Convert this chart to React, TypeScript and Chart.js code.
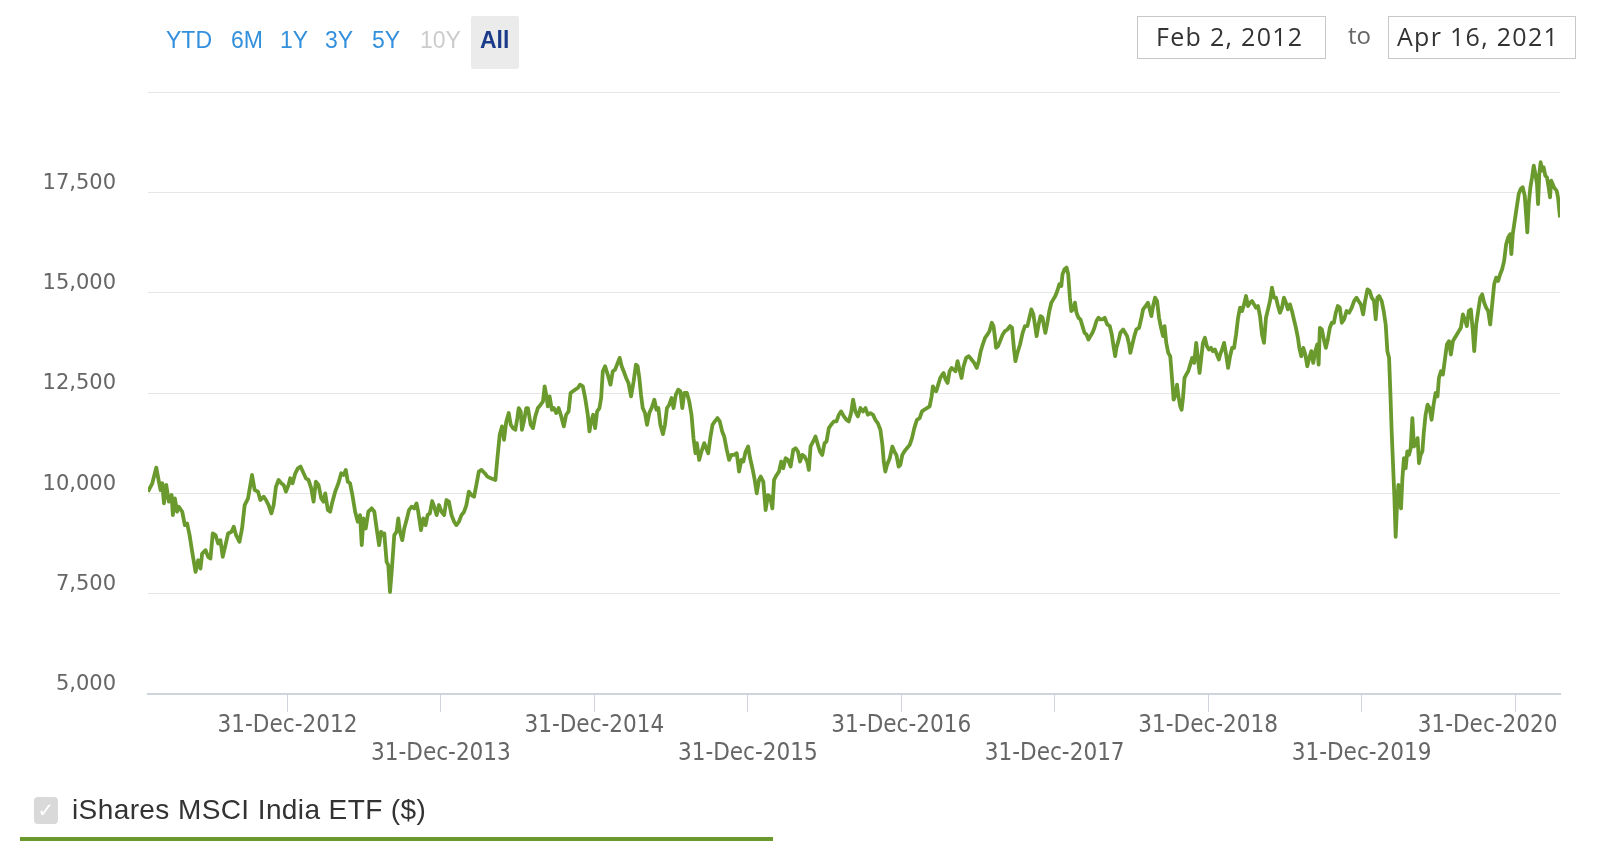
import React, { useEffect, useRef } from "react";
import { Chart, registerables } from "chart.js";

Chart.register(...registerables);

// ---- Data (decimal years, fund value in $) ----
const seg1Years = [2012.088, 2012.116, 2012.142, 2012.159, 2012.170, 2012.181, 2012.192, 2012.207, 2012.224, 2012.242, 2012.250, 2012.263, 2012.278, 2012.289, 2012.311, 2012.328, 2012.343, 2012.359, 2012.376, 2012.398, 2012.415, 2012.430, 2012.441, 2012.463, 2012.480, 2012.495, 2012.510, 2012.528, 2012.545, 2012.560, 2012.575, 2012.593, 2012.610, 2012.632, 2012.647, 2012.662, 2012.684, 2012.701, 2012.718, 2012.740, 2012.766, 2012.783, 2012.805, 2012.820, 2012.842, 2012.857, 2012.874, 2012.892, 2012.907, 2012.922, 2012.939, 2012.957, 2012.972, 2012.987, 2013.004, 2013.015, 2013.030, 2013.048, 2013.065, 2013.082, 2013.102, 2013.117, 2013.134, 2013.152, 2013.167, 2013.182, 2013.199, 2013.217, 2013.232, 2013.243, 2013.260, 2013.275, 2013.290, 2013.308, 2013.329, 2013.347, 2013.362, 2013.377, 2013.390, 2013.405, 2013.420, 2013.438, 2013.455, 2013.470, 2013.481, 2013.492, 2013.507, 2013.524, 2013.546, 2013.563, 2013.578, 2013.594, 2013.607, 2013.622];
const seg1Values = [10042, 10250, 10642, 10292, 10083, 10250, 9750, 10208, 9792, 9958, 9458, 9875, 9542, 9667, 9542, 9208, 9250, 8958, 8542, 8042, 8333, 8125, 8500, 8583, 8417, 8375, 9000, 8958, 8750, 8833, 8417, 8708, 9000, 9042, 9167, 8958, 8792, 9125, 9708, 9875, 10458, 10083, 10042, 9833, 9917, 9833, 9708, 9500, 9708, 10167, 10333, 10250, 10208, 10042, 10208, 10375, 10250, 10500, 10625, 10667, 10500, 10375, 10333, 10125, 9792, 10292, 10208, 9875, 9792, 10000, 9583, 9542, 9792, 10042, 10250, 10500, 10458, 10583, 10292, 10250, 9958, 9542, 9292, 9458, 8708, 9375, 9125, 9542, 9625, 9542, 9125, 8708, 9042, 8958];

const seg2Years = [2013.628, 2013.643, 2013.654, 2013.665, 2013.676, 2013.693, 2013.708, 2013.719, 2013.730, 2013.745, 2013.758, 2013.773, 2013.789, 2013.806, 2013.823, 2013.838, 2013.849, 2013.867, 2013.882, 2013.897, 2013.910, 2013.925, 2013.940, 2013.953, 2013.969, 2013.984, 2014.001, 2014.018, 2014.033, 2014.049, 2014.066, 2014.083, 2014.098, 2014.114, 2014.131, 2014.148, 2014.163, 2014.179, 2014.196, 2014.213, 2014.228, 2014.244, 2014.261, 2014.283, 2014.300, 2014.322, 2014.352, 2014.365, 2014.380, 2014.395, 2014.408, 2014.423, 2014.439, 2014.452, 2014.467, 2014.482, 2014.495, 2014.504, 2014.517, 2014.525, 2014.538, 2014.553, 2014.564, 2014.582, 2014.597, 2014.612, 2014.629, 2014.647, 2014.662, 2014.673, 2014.683, 2014.694, 2014.705, 2014.720, 2014.733, 2014.748, 2014.764, 2014.781, 2014.798, 2014.813, 2014.829, 2014.842, 2014.857, 2014.872, 2014.889, 2014.904, 2014.922, 2014.937, 2014.954, 2014.965, 2014.976, 2014.989, 2015.002, 2015.015, 2015.030, 2015.041, 2015.052, 2015.067, 2015.084, 2015.102, 2015.117, 2015.132, 2015.149, 2015.162, 2015.175, 2015.188, 2015.204];
const seg2Values = [9000, 8292, 8208, 7542, 8042, 8958, 9042, 9375, 9042, 8833, 9125, 9333, 9583, 9667, 9625, 9750, 9542, 9083, 9375, 9208, 9458, 9500, 9808, 9667, 9458, 9708, 9542, 9458, 9833, 9792, 9458, 9292, 9208, 9292, 9458, 9542, 9708, 10042, 9958, 9917, 10208, 10542, 10583, 10500, 10417, 10375, 10333, 10875, 11458, 11667, 11333, 11792, 12000, 11708, 11625, 11583, 11875, 12125, 12042, 11583, 11792, 12125, 12125, 11708, 11625, 11917, 12125, 12208, 12292, 12667, 12458, 12167, 12417, 12083, 12125, 12000, 12125, 11917, 11667, 11958, 12042, 12500, 12542, 12583, 12625, 12708, 12667, 12375, 11958, 11542, 11792, 11958, 11625, 12042, 12125, 12375, 13042, 13167, 12958, 12708, 13042, 13083, 13250, 13375, 13167, 13042, 12875];

const seg3Years = [2015.219, 2015.236, 2015.253, 2015.268, 2015.279, 2015.290, 2015.301, 2015.312, 2015.327, 2015.340, 2015.355, 2015.370, 2015.388, 2015.401, 2015.414, 2015.427, 2015.444, 2015.457, 2015.470, 2015.485, 2015.500, 2015.513, 2015.528, 2015.544, 2015.557, 2015.570, 2015.583, 2015.600, 2015.615, 2015.630, 2015.643, 2015.656, 2015.665, 2015.680, 2015.695, 2015.713, 2015.726, 2015.739, 2015.752, 2015.767, 2015.782, 2015.799, 2015.814, 2015.830, 2015.843, 2015.860, 2015.875, 2015.890, 2015.908, 2015.925, 2015.940, 2015.955, 2015.968, 2015.983, 2015.999, 2016.012, 2016.027, 2016.042, 2016.055, 2016.070, 2016.081, 2016.098, 2016.113, 2016.129, 2016.142, 2016.157, 2016.168, 2016.185, 2016.200, 2016.215, 2016.228, 2016.243, 2016.259, 2016.276, 2016.293, 2016.308, 2016.324, 2016.337, 2016.352, 2016.367, 2016.384, 2016.395, 2016.406, 2016.423, 2016.438, 2016.454, 2016.467, 2016.482, 2016.497, 2016.510, 2016.525, 2016.540, 2016.558, 2016.575, 2016.590, 2016.605, 2016.623, 2016.640, 2016.655, 2016.670, 2016.683, 2016.698, 2016.714, 2016.731, 2016.748, 2016.764];
const seg3Values = [12750, 12417, 12792, 13208, 13167, 12875, 12458, 12125, 12000, 11708, 12000, 12125, 12333, 12083, 12125, 11708, 11475, 11708, 12125, 12208, 12375, 12125, 12458, 12583, 12542, 12125, 12500, 12500, 12292, 11958, 11375, 11000, 11250, 10833, 11042, 11250, 11125, 11000, 11375, 11708, 11792, 11875, 11792, 11542, 11417, 11083, 10833, 10958, 10958, 11000, 10542, 10833, 10792, 11042, 11167, 10875, 10625, 10333, 10000, 10333, 10417, 10292, 9583, 9958, 9917, 9625, 10333, 10458, 10542, 10792, 10625, 10875, 10833, 10667, 11083, 11125, 11042, 10792, 10958, 10917, 10792, 10583, 11167, 11292, 11417, 11208, 11042, 10958, 11250, 11292, 11625, 11708, 11792, 11792, 11958, 12042, 11917, 11833, 11792, 12000, 12333, 12042, 11917, 12125, 12042, 12125];

const seg4Years = [2016.779, 2016.796, 2016.813, 2016.828, 2016.844, 2016.861, 2016.874, 2016.883, 2016.893, 2016.904, 2016.922, 2016.939, 2016.952, 2016.965, 2016.980, 2016.991, 2017.004, 2017.017, 2017.034, 2017.052, 2017.067, 2017.082, 2017.099, 2017.117, 2017.132, 2017.147, 2017.164, 2017.182, 2017.195, 2017.203, 2017.212, 2017.225, 2017.238, 2017.251, 2017.264, 2017.273, 2017.286, 2017.299, 2017.312, 2017.325, 2017.338, 2017.351, 2017.364, 2017.377, 2017.390, 2017.403, 2017.420, 2017.437, 2017.455, 2017.472, 2017.489, 2017.502, 2017.515, 2017.528, 2017.543, 2017.559, 2017.572, 2017.587, 2017.598, 2017.608, 2017.615, 2017.628, 2017.641, 2017.658, 2017.673, 2017.689, 2017.706, 2017.719, 2017.732, 2017.741, 2017.754, 2017.771, 2017.788, 2017.803, 2017.819, 2017.832, 2017.845, 2017.858, 2017.871, 2017.879, 2017.892, 2017.905, 2017.918, 2017.927, 2017.936, 2017.949, 2017.962, 2017.975, 2017.988, 2018.001, 2018.014, 2018.027, 2018.040, 2018.048, 2018.061, 2018.074, 2018.085, 2018.096, 2018.105, 2018.118, 2018.129, 2018.139, 2018.152, 2018.165, 2018.178, 2018.191, 2018.204, 2018.217, 2018.230, 2018.243, 2018.256, 2018.269, 2018.282, 2018.295, 2018.308, 2018.323];
const seg4Values = [11958, 12000, 11958, 11833, 11750, 11583, 11208, 10792, 10542, 10708, 10875, 11167, 11042, 10958, 10667, 10708, 10958, 11042, 11125, 11208, 11375, 11625, 11833, 11875, 12042, 12083, 12125, 12167, 12417, 12667, 12583, 12542, 12708, 12875, 12958, 13000, 12833, 12750, 13042, 13125, 13083, 13042, 13292, 13083, 12875, 13167, 13375, 13417, 13333, 13250, 13125, 13292, 13542, 13708, 13875, 13958, 14042, 14250, 14167, 13875, 13625, 13667, 13792, 13958, 14042, 14083, 14167, 14125, 13583, 13292, 13500, 13708, 14000, 14167, 14167, 14375, 14583, 14458, 14125, 13917, 14208, 14417, 14375, 14167, 14000, 14250, 14542, 14750, 14833, 14917, 15042, 15208, 15167, 15458, 15583, 15625, 15458, 14875, 14542, 14583, 14750, 14500, 14375, 14333, 14167, 14000, 13958, 13833, 13917, 14000, 14125, 14292, 14375, 14333, 14333, 14375];

const seg5Years = [2018.339, 2018.356, 2018.369, 2018.382, 2018.391, 2018.399, 2018.412, 2018.425, 2018.443, 2018.456, 2018.469, 2018.482, 2018.490, 2018.503, 2018.516, 2018.529, 2018.547, 2018.562, 2018.573, 2018.590, 2018.605, 2018.616, 2018.627, 2018.638, 2018.651, 2018.664, 2018.677, 2018.690, 2018.703, 2018.713, 2018.724, 2018.737, 2018.750, 2018.763, 2018.772, 2018.785, 2018.794, 2018.802, 2018.815, 2018.824, 2018.833, 2018.843, 2018.854, 2018.867, 2018.880, 2018.893, 2018.906, 2018.919, 2018.930, 2018.941, 2018.952, 2018.963, 2018.976, 2018.989, 2019.002, 2019.015, 2019.028, 2019.041, 2019.054, 2019.067, 2019.075, 2019.088, 2019.101, 2019.114, 2019.127, 2019.140, 2019.153, 2019.166, 2019.179, 2019.192, 2019.205, 2019.218, 2019.231, 2019.244, 2019.257, 2019.270, 2019.283, 2019.296, 2019.309, 2019.322, 2019.335, 2019.348, 2019.361, 2019.374, 2019.387, 2019.400, 2019.413, 2019.426, 2019.439, 2019.452, 2019.465, 2019.478, 2019.491, 2019.504, 2019.517, 2019.530, 2019.543, 2019.556, 2019.569, 2019.582, 2019.591, 2019.604, 2019.617, 2019.630, 2019.643, 2019.656, 2019.669, 2019.682, 2019.695, 2019.708, 2019.717, 2019.725, 2019.738, 2019.751, 2019.764, 2019.777, 2019.790, 2019.803, 2019.816, 2019.829, 2019.842, 2019.855, 2019.868, 2019.883];
const seg5Values = [14208, 14167, 13958, 13625, 13417, 13625, 13792, 14000, 14083, 14000, 13917, 13708, 13500, 13708, 13917, 14083, 14125, 14375, 14583, 14667, 14750, 14583, 14417, 14667, 14875, 14792, 14375, 14125, 13917, 14167, 13750, 13500, 13417, 12792, 12333, 12458, 12708, 12458, 12167, 12083, 12375, 12875, 12958, 13042, 13208, 13375, 13250, 13750, 13375, 13000, 13375, 13750, 13875, 13667, 13583, 13625, 13542, 13583, 13458, 13333, 13458, 13583, 13750, 13458, 13125, 13417, 13625, 13625, 13958, 14375, 14625, 14542, 14708, 14917, 14667, 14750, 14792, 14708, 14625, 14667, 14417, 13958, 13750, 14375, 14583, 14792, 15125, 14875, 14875, 14667, 14500, 14625, 14875, 14750, 14583, 14708, 14542, 14333, 14125, 13875, 13625, 13417, 13625, 13458, 13167, 13375, 13542, 13250, 13542, 13708, 13208, 14125, 14083, 13833, 13625, 13833, 14125, 14250, 14250, 14500, 14667, 14625, 14250, 14333];

const seg6Years = [2019.899, 2019.916, 2019.933, 2019.948, 2019.964, 2019.977, 2019.992, 2020.007, 2020.020, 2020.035, 2020.050, 2020.063, 2020.078, 2020.089, 2020.100, 2020.111, 2020.128, 2020.141, 2020.154, 2020.165, 2020.176, 2020.185, 2020.193, 2020.202, 2020.211, 2020.219, 2020.228, 2020.237, 2020.245, 2020.254, 2020.263, 2020.273, 2020.284, 2020.295, 2020.306, 2020.317, 2020.328, 2020.338, 2020.349, 2020.362, 2020.371, 2020.382, 2020.393, 2020.403, 2020.414, 2020.427, 2020.440, 2020.453, 2020.466, 2020.479, 2020.492, 2020.501, 2020.514, 2020.527, 2020.540, 2020.553, 2020.566, 2020.579, 2020.592, 2020.605, 2020.618, 2020.631, 2020.644, 2020.657, 2020.670, 2020.683, 2020.696, 2020.709, 2020.722, 2020.731, 2020.744, 2020.757, 2020.770, 2020.783, 2020.796, 2020.809, 2020.822, 2020.835, 2020.848, 2020.861, 2020.874, 2020.887, 2020.900, 2020.913, 2020.926, 2020.939, 2020.952, 2020.965, 2020.973, 2020.982, 2020.995, 2021.008, 2021.021, 2021.034, 2021.047, 2021.060, 2021.069, 2021.077, 2021.086, 2021.097, 2021.108, 2021.119, 2021.129, 2021.140, 2021.147, 2021.155, 2021.164, 2021.173, 2021.183, 2021.194, 2021.205, 2021.216, 2021.225, 2021.233, 2021.242, 2021.251, 2021.259, 2021.268, 2021.277, 2021.290];
const seg6Values = [14542, 14500, 14625, 14792, 14875, 14792, 14708, 14458, 14792, 15083, 15042, 14875, 14792, 14333, 14875, 14917, 14792, 14542, 14208, 13542, 13375, 12458, 11542, 10708, 9875, 8917, 9708, 10208, 9875, 9625, 10375, 10875, 10625, 11042, 10958, 11125, 11875, 11167, 11208, 11375, 10750, 10958, 11042, 11542, 11958, 12208, 12125, 11833, 12208, 12500, 12417, 12875, 13042, 12958, 13333, 13708, 13792, 13458, 13792, 13875, 13958, 14042, 14125, 14458, 14333, 14167, 14542, 14583, 14042, 13542, 14208, 14542, 14875, 14958, 14750, 14625, 14542, 14208, 14708, 15208, 15375, 15292, 15458, 15583, 15792, 16208, 16375, 16458, 15958, 16458, 16792, 17125, 17458, 17583, 17625, 17417, 16958, 16500, 17208, 17625, 17875, 18167, 17958, 17708, 17208, 17958, 18250, 18042, 18125, 17917, 17875, 17625, 17375, 17792, 17708, 17625, 17583, 17542, 17375, 16875];

const xMin = 2012.088; // Feb 2, 2012
const xMax = 2021.29; // Apr 16, 2021
const xTickYears = [2012.997, 2013.997, 2014.997, 2015.997, 2016.997, 2017.997, 2018.997, 2019.997, 2020.997];
const xTickLabels = ["31-Dec-2012", "31-Dec-2013", "31-Dec-2014", "31-Dec-2015", "31-Dec-2016", "31-Dec-2017", "31-Dec-2018", "31-Dec-2019", "31-Dec-2020"];
const yTickValues = [5000, 7500, 10000, 12500, 15000, 17500, 20000];
const rangeButtons = ["YTD", "6M", "1Y", "3Y", "5Y", "10Y", "All"];
const rangeButtonLefts = [166, 231, 280, 325, 372, 420, 480];
const seriesName = "iShares MSCI India ETF ($)";
const fromDate = "Feb 2, 2012";
const toDate = "Apr 16, 2021";

const LINE_COLOR = "#6a9a2e";

export default function App() {
  const ref = useRef<HTMLCanvasElement>(null);

  useEffect(() => {
    const segs: [number[], number[]][] = [
      [seg1Years, seg1Values],
      [seg2Years, seg2Values],
      [seg3Years, seg3Values],
      [seg4Years, seg4Values],
      [seg5Years, seg5Values],
      [seg6Years, seg6Values],
    ];
    const points: { x: number; y: number }[] = [];
    segs.forEach(([ys, vs]) => {
      const n = Math.min(ys.length, vs.length);
      for (let i = 0; i < n; i++) points.push({ x: ys[i], y: vs[i] });
    });

    const lastIdx = xTickLabels.length - 1;
    const chart = new Chart(ref.current as HTMLCanvasElement, {
      type: "line",
      data: {
        datasets: [
          {
            data: points,
            borderColor: LINE_COLOR,
            borderWidth: 3.8,
            pointRadius: 0,
            tension: 0,
            fill: false,
            borderJoinStyle: "round",
          },
        ],
      },
      options: {
        animation: false,
        responsive: false,
        layout: { padding: { top: 92, right: 47, bottom: 0, left: 0 } },
        plugins: { legend: { display: false }, tooltip: { enabled: false } },
        scales: {
          x: {
            type: "linear",
            min: xMin,
            max: xMax,
            afterBuildTicks: (s: any) => {
              s.ticks = xTickYears.map((v) => ({ value: v }));
            },
            afterFit: (s: any) => {
              s.height = 160;
              s.paddingLeft = 0;
              s.paddingRight = 0;
            },
            ticks: {
              autoSkip: false,
              maxRotation: 0,
              minRotation: 0,
              padding: 0,
              color: "#666666",
              font: { family: '"DejaVu Sans Condensed", "Liberation Sans Narrow", sans-serif', size: 24, lineHeight: 1.15 },
              callback: (_v: any, i: number) => {
                // last label is pushed left so it ends at the plot edge
                const lbl = i === lastIdx ? xTickLabels[i] + "        " : xTickLabels[i];
                return i % 2 === 0 ? lbl : ["", lbl];
              },
            },
            grid: { drawOnChartArea: false, drawTicks: true, tickLength: 18, color: "#cfd3db", lineWidth: 1 },
            border: { display: true, color: "#cfd3db", width: 2 },
          },
          y: {
            type: "linear",
            min: 5000,
            max: 20000,
            afterBuildTicks: (s: any) => {
              s.ticks = yTickValues.map((v) => ({ value: v }));
            },
            afterFit: (s: any) => {
              s.width = 148;
            },
            ticks: {
              padding: 32,
              labelOffset: -9,
              color: "#666666",
              font: { family: '"DejaVu Sans", sans-serif', size: 21 },
              callback: (v: any) => (v === 20000 ? "" : Number(v).toLocaleString("en-US")),
            },
            grid: { color: "#e6e6e6", drawTicks: false, lineWidth: 1 },
            border: { display: false },
          },
        },
      },
    });
    return () => chart.destroy();
  }, []);

  const btnFont = '"Liberation Sans", Arial, sans-serif';
  const dateFont = '"Open Sans", "DejaVu Sans", sans-serif';

  return (
    <div style={{ position: "fixed", left: 0, top: 0, width: 1607, height: 854, background: "#ffffff", overflow: "hidden" }}>
      <canvas ref={ref} width={1607} height={854} style={{ position: "absolute", left: 0, top: 0, width: 1607, height: 854 }} />
      <div style={{ position: "absolute", left: 471, top: 16, width: 48, height: 53, background: "#ebebeb", borderRadius: 2 }} />
      {rangeButtons.map((b, i) => (
        <div
          key={b}
          style={{
            position: "absolute",
            left: rangeButtonLefts[i],
            top: 26,
            height: 28,
            lineHeight: "28px",
            fontFamily: btnFont,
            fontSize: 23,
            fontWeight: b === "All" ? 700 : 400,
            color: b === "All" ? "#1a3a8a" : b === "10Y" ? "#cccccc" : "#3390dd",
            whiteSpace: "nowrap",
          }}
        >
          {b}
        </div>
      ))}
      <div
        style={{
          position: "absolute",
          left: 1137,
          top: 16,
          width: 189,
          height: 43,
          boxSizing: "border-box",
          border: "1.5px solid #c8c8c8",
          paddingLeft: 18,
          paddingBottom: 4,
          display: "flex",
          alignItems: "center",
          fontFamily: dateFont,
          fontSize: 25,
          letterSpacing: 1.3,
          color: "#333333",
          whiteSpace: "nowrap",
        }}
      >
        {fromDate}
      </div>
      <div style={{ position: "absolute", left: 1348, top: 17, height: 36, lineHeight: "36px", fontFamily: dateFont, fontSize: 24, color: "#666666" }}>to</div>
      <div
        style={{
          position: "absolute",
          left: 1388,
          top: 16,
          width: 188,
          height: 43,
          boxSizing: "border-box",
          border: "1.5px solid #c8c8c8",
          paddingLeft: 8,
          paddingBottom: 4,
          display: "flex",
          alignItems: "center",
          fontFamily: dateFont,
          fontSize: 25,
          letterSpacing: 1.3,
          color: "#333333",
          whiteSpace: "nowrap",
        }}
      >
        {toDate}
      </div>
      <div
        style={{
          position: "absolute",
          left: 34,
          top: 797,
          width: 24,
          height: 27,
          background: "#d9d9d9",
          borderRadius: 4,
          color: "#ffffff",
          fontSize: 20,
          fontWeight: 700,
          lineHeight: "27px",
          textAlign: "center",
          fontFamily: '"DejaVu Sans", sans-serif',
        }}
      >
        ✓
      </div>
      <div
        style={{
          position: "absolute",
          left: 72,
          top: 792,
          height: 36,
          lineHeight: "36px",
          fontFamily: btnFont,
          fontSize: 28,
          letterSpacing: 0.4,
          color: "#333333",
          whiteSpace: "nowrap",
        }}
      >
        {seriesName}
      </div>
      <div style={{ position: "absolute", left: 20, top: 837, width: 753, height: 4, background: LINE_COLOR }} />
    </div>
  );
}
